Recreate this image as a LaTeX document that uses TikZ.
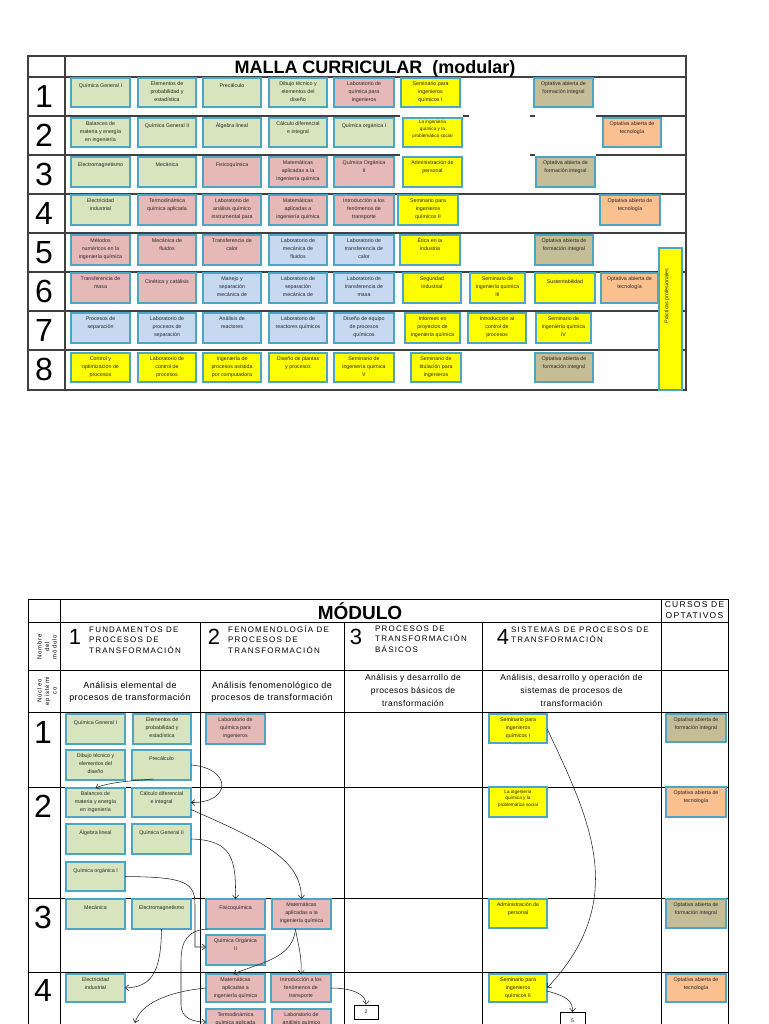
\documentclass[tikz,border=0pt]{standalone}
\usepackage{fontspec}
\setmainfont{Liberation Sans}
\newfontfamily\hdrfont[LetterSpace=15]{Liberation Sans}
\newfontfamily\nucfont[LetterSpace=5]{Liberation Sans}
\usetikzlibrary{arrows.meta,calc}
\definecolor{cgreen}{RGB}{215,228,189}
\definecolor{cpink}{RGB}{230,185,184}
\definecolor{cblue}{RGB}{198,217,241}
\definecolor{cyellow}{RGB}{255,255,0}
\definecolor{ctan}{RGB}{196,189,151}
\definecolor{corange}{RGB}{250,192,144}
\definecolor{bordc}{RGB}{75,165,195}
\tikzset{
  cbox/.style={draw=bordc, line width=1.1pt, inner sep=0pt, outer sep=0pt, text=black!85, font=\fontsize{5.3}{7.8}\selectfont},
  tline/.style={draw=black!75, line width=1.1pt},
  bline/.style={draw=black, line width=0.8pt},
  conn/.style={draw=black!85, line width=0.55pt, -{Straight Barb[length=3.5pt,width=6pt]}},
  bignum/.style={font=\fontsize{32}{32}\selectfont, inner sep=0pt},
  modnum/.style={font=\fontsize{22}{22}\selectfont, inner sep=0pt},
  modtxt/.style={font=\hdrfont\fontsize{8}{10.5}\selectfont, inner sep=0pt, anchor=base west},
  nuctxt/.style={font=\nucfont\fontsize{9}{12.5}\selectfont, inner sep=0pt, anchor=base},
  sidetxt/.style={font=\hdrfont\fontsize{6}{7.5}\selectfont, inner sep=0pt, rotate=90, align=center},
  numbox/.style={draw=black, line width=0.6pt, fill=white, inner sep=0pt, font=\fontsize{5}{6}\selectfont},
}
% \bx[first baseline]{name}{fill}{x1}{y1}{x2}{y2}{text}
\newcommand\bx[8][7.5]{%
  \node[cbox, fill=#3] (#2) at ({(#4+#6)/2},{(#5+#7)/2})
   {\parbox[t][\dimexpr#7pt-#5pt\relax][t]{\dimexpr#6pt-#4pt\relax}{\centering\rule{0pt}{#1pt}#8\par}};}
\begin{document}
\begin{tikzpicture}[x=1pt,y=-1pt]
\useasboundingbox (0,0) rectangle (768,1024);
\clip (0,0) rectangle (768,1024);
\fill[white] (0,0) rectangle (768,1024);

% ================= TOP TABLE =================
\draw[tline] (28,56) rectangle (686,390);
\draw[tline] (28,77) -- (686,77);
\draw[tline] (65,56) -- (65,390);
\draw[tline] (28,116) -- (400,116) (463,116) -- (469,116) (530,116) -- (535,116) (596,116) -- (686,116);
\draw[tline] (28,155) -- (400,155) (530,155) -- (535,155) (596,155) -- (686,155);
\foreach \yy in {194,233,272,311,350} {\draw[tline] (28,\yy) -- (686,\yy);}

\node[font=\bfseries\fontsize{18}{18}\selectfont, inner sep=0pt] (title) at (375,69) {MALLA CURRICULAR\ \ (modular)};

\node[bignum] (tn1) at (44,96) {1};
\node[bignum] (tn2) at (44,135.5) {2};
\node[bignum] (tn3) at (44,174.5) {3};
\node[bignum] (tn4) at (44,213.5) {4};
\node[bignum] (tn5) at (44,252.5) {5};
\node[bignum] (tn6) at (44,291.5) {6};
\node[bignum] (tn7) at (44,330.5) {7};
\node[bignum] (tn8) at (44,369.5) {8};

% row 1
\bx[10]{t11}{cgreen}{71}{78}{130}{107}{Química General I}
\bx{t12}{cgreen}{138}{78}{196}{107}{Elementos de\\probabilidad y\\estadística}
\bx[10]{t13}{cgreen}{203}{78}{261}{107}{Precálculo}
\bx{t14}{cgreen}{269}{78}{327}{107}{Dibujo técnico y\\elementos del\\diseño}
\bx{t15}{cpink}{334}{78}{394}{107}{Laboratorio de\\química para\\ingenieros}
\bx{t16}{cyellow}{401}{78}{460}{107}{Seminario para\\ingenieros\\químicos I}
\bx{t17}{ctan}{534}{78}{593}{107}{Optativa abierta de\\formación integral}
% row 2
\bx{t21}{cgreen}{71}{118}{130}{147}{Balances de\\materia y energía\\en ingeniería}
\bx[10]{t22}{cgreen}{138}{118}{196}{147}{Química General II}
\bx[10]{t23}{cgreen}{203}{118}{261}{147}{Álgebra lineal}
\bx{t24}{cgreen}{269}{118}{327}{147}{Cálculo diferencial\\e integral}
\bx[10]{t25}{cgreen}{334}{118}{394}{147}{Química orgánica I}
\bx[6]{t26}{cyellow}{403}{118}{462}{147}{\fontsize{4.7}{6.8}\selectfont La ingeniería\\química y la\\problemática social}
\bx{t27}{corange}{603}{118}{661}{147}{Optativa abierta de\\tecnología}
% row 3
\bx[10]{t31}{cgreen}{71}{157}{130}{187}{Electromagnetismo}
\bx[10]{t32}{cgreen}{138}{157}{196}{187}{Mecánica}
\bx[10]{t33}{cpink}{203}{157}{261}{187}{Fisicoquímica}
\bx{t34}{cpink}{269}{157}{327}{187}{Matemáticas\\aplicadas a la\\ingeniería química}
\bx{t35}{cpink}{334}{157}{394}{187}{Química Orgánica\\II}
\bx{t36}{cyellow}{403}{157}{462}{187}{Administración de\\personal}
\bx{t37}{ctan}{536}{157}{595}{187}{Optativa abierta de\\formación integral}
% row 4
\bx{t41}{cgreen}{71}{195}{130}{225}{Electricidad\\industrial}
\bx{t42}{cpink}{138}{195}{196}{225}{Termodinámica\\química aplicada}
\bx{t43}{cpink}{203}{195}{261}{225}{Laboratorio de\\análisis químico\\instrumental para}
\bx{t44}{cpink}{269}{195}{327}{225}{Matemáticas\\aplicadas a\\ingeniería química}
\bx{t45}{cpink}{334}{195}{394}{225}{Introducción a los\\fenómenos de\\transporte}
\bx{t46}{cyellow}{398}{195}{458}{225}{Seminario para\\ingenieros\\químicos II}
\bx{t47}{corange}{600}{195}{660}{225}{Optativa abierta de\\tecnología}
% row 5
\bx{t51}{cpink}{71}{235}{130}{265}{Métodos\\numéricos en la\\ingeniería química}
\bx{t52}{cpink}{138}{235}{196}{265}{Mecánica de\\fluidos}
\bx{t53}{cpink}{203}{235}{261}{265}{Transferencia de\\calor}
\bx{t54}{cblue}{269}{235}{327}{265}{Laboratorio de\\mecánica de\\fluidos}
\bx{t55}{cblue}{334}{235}{394}{265}{Laboratorio de\\transferencia de\\calor}
\bx{t56}{cyellow}{400}{235}{460}{265}{Ética en la\\industria}
\bx{t57}{ctan}{535}{235}{593}{265}{Optativa abierta de\\formación integral}
% row 6
\bx{t61}{cpink}{71}{273}{130}{303}{Transferencia de\\masa}
\bx[10]{t62}{cpink}{138}{273}{196}{303}{Cinética y catálisis}
\bx{t63}{cblue}{203}{273}{261}{303}{Manejo y\\separación\\mecánica de}
\bx{t64}{cblue}{269}{273}{327}{303}{Laboratorio de\\separación\\mecánica de}
\bx{t65}{cblue}{334}{273}{394}{303}{Laboratorio de\\transferencia de\\masa}
\bx{t66}{cyellow}{403}{273}{461}{303}{Seguridad\\industrial}
\bx{t67}{cyellow}{470}{273}{525}{303}{Seminario de\\ingeniería química\\III}
\bx[10]{t68}{cyellow}{535}{273}{595}{303}{Sustentabilidad}
\bx{t69}{corange}{601}{273}{658}{303}{Optativa abierta de\\tecnología}
% row 7
\bx{t71}{cblue}{71}{313}{130}{343}{Procesos de\\separación}
\bx{t72}{cblue}{138}{313}{196}{343}{Laboratorio de\\procesos de\\separación}
\bx{t73}{cblue}{203}{313}{261}{343}{Análisis de\\reactores}
\bx{t74}{cblue}{269}{313}{327}{343}{Laboratorio de\\reactores químicos}
\bx{t75}{cblue}{334}{313}{394}{343}{Diseño de equipo\\de procesos\\químicos}
\bx{t76}{cyellow}{405}{313}{460}{343}{Informes en\\proyectos de\\ingeniería química}
\bx{t77}{cyellow}{468}{313}{526}{343}{Introducción al\\control de\\procesos}
\bx{t78}{cyellow}{536}{313}{591}{343}{Seminario de\\ingeniería química\\IV}
% row 8
\bx{t81}{cyellow}{71}{353}{130}{382}{Control y\\optimización de\\procesos}
\bx{t82}{cyellow}{138}{353}{196}{382}{Laboratorio de\\control de\\procesos}
\bx{t83}{cyellow}{203}{353}{261}{382}{Ingeniería de\\procesos asistida\\por computadora}
\bx{t84}{cyellow}{269}{353}{327}{382}{Diseño de plantas\\y procesos}
\bx{t85}{cyellow}{334}{353}{394}{382}{Seminario de\\ingeniería química\\V}
\bx{t86}{cyellow}{411}{353}{461}{382}{Seminario de\\titulación para\\ingenieros}
\bx{t87}{ctan}{535}{353}{593}{382}{Optativa abierta de\\formación integral}

\node[cbox, fill=cyellow, minimum width=23pt, minimum height=142pt] (prac) at (670.5,319) {};
\node[rotate=90, inner sep=0pt, text=black!85, font=\fontsize{5.3}{6}\selectfont] (practxt) at (667,296) {Prácticas profesionales};

% ================= BOTTOM TABLE =================
\draw[bline] (28,599) -- (728,599);
\draw[bline] (28,599) -- (28,1030);
\draw[bline] (728,599) -- (728,1030);
\foreach \yy in {622,670,712,787,898,972} {\draw[bline] (28,\yy) -- (728,\yy);}
\draw[bline] (60,599) -- (60,1030);
\draw[bline] (661,599) -- (661,1030);
\foreach \xx in {200,344,482} {\draw[bline] (\xx,622) -- (\xx,1030);}

\node[font=\bfseries\fontsize{19}{19}\selectfont, inner sep=0pt] (modtitle) at (360,611) {MÓDULO};
\node[font=\hdrfont\fontsize{8.5}{10.5}\selectfont, align=center, inner sep=0pt] (cursos) at (694.5,610) {CURSOS DE\\OPTATIVOS};

\node[sidetxt] (side1) at (47,647) {Nombre\\del\\módulo};
\node[sidetxt] (side2) at (47,691) {Núcleo\\epistémi\\co};

\node[modnum] (mn1) at (75,637) {1};
\node[modtxt] (mt1) at (89,632) {\parbox[t]{110pt}{\raggedright FUNDAMENTOS DE\\PROCESOS DE\\TRANSFORMACIÓN}};
\node[modnum] (mn2) at (214,637) {2};
\node[modtxt] (mt2) at (228,632) {\parbox[t]{115pt}{\raggedright FENOMENOLOGÍA DE\\PROCESOS DE\\TRANSFORMACIÓN}};
\node[modnum] (mn3) at (356,637) {3};
\node[modtxt] (mt3) at (375,631) {\parbox[t]{105pt}{\raggedright PROCESOS DE\\TRANSFORMACIÓN\\BÁSICOS}};
\node[modnum] (mn4) at (503,637) {4};
\node[modtxt] (mt4) at (511,632) {\parbox[t]{145pt}{\raggedright SISTEMAS DE PROCESOS DE\\TRANSFORMACIÓN}};

\node[nuctxt] (nc1) at (130,688) {\parbox[t]{135pt}{\centering Análisis elemental de\\procesos de transformación}};
\node[nuctxt] (nc2) at (272,688) {\parbox[t]{140pt}{\centering Análisis fenomenológico de\\procesos de transformación}};
\node[nuctxt] (nc3) at (413,680) {\parbox[t]{135pt}{\centering\fontsize{8.5}{13}\selectfont Análisis y desarrollo de\\procesos básicos de\\transformación}};
\node[nuctxt] (nc4) at (571.5,680) {\parbox[t]{175pt}{\centering\fontsize{8.5}{13}\selectfont Análisis, desarrollo y operación de\\sistemas de procesos de\\transformación}};

\node[bignum] (bn1) at (43,732) {1};
\node[bignum] (bn2) at (43,806) {2};
\node[bignum] (bn3) at (43,917) {3};
\node[bignum] (bn4) at (43,990) {4};

\bx[10]{qg1}{cgreen}{66}{714}{125}{744}{Química General I}
\bx{elem}{cgreen}{133}{714}{191}{744}{Elementos de\\probabilidad y\\estadística}
\bx{labq}{cpink}{206}{714}{265}{744}{Laboratorio de\\química para\\ingenieros}
\bx{dibujo}{cgreen}{66}{750}{125}{780}{Dibujo técnico y\\elementos del\\diseño}
\bx[10]{precalc}{cgreen}{132}{750}{191}{780}{Precálculo}
\bx{balances}{cgreen}{66}{788}{125}{817}{Balances de\\materia y energía\\en ingeniería}
\bx{calcdi}{cgreen}{132}{788}{191}{817}{Cálculo diferencial\\e integral}
\bx[10]{alg}{cgreen}{66}{824}{125}{854}{Álgebra lineal}
\bx[10]{qg2}{cgreen}{132}{824}{191}{854}{Química General II}
\bx[10]{qo1}{cgreen}{66}{862}{125}{891}{Química orgánica I}
\bx[10]{mec}{cgreen}{66}{899}{125}{929}{Mecánica}
\bx[10]{emag}{cgreen}{132}{899}{191}{929}{Electromagnetismo}
\bx[10]{fisico}{cpink}{206}{899}{265}{929}{Fisicoquímica}
\bx{mat3}{cpink}{272}{899}{331}{929}{Matemáticas\\aplicadas a la\\ingeniería química}
\bx{qo2}{cpink}{206}{935}{265}{965}{Química Orgánica\\II}
\bx{elec}{cgreen}{66}{974}{125}{1002}{Electricidad\\industrial}
\bx{mat4}{cpink}{206}{974}{265}{1002}{Matemáticas\\aplicadas a\\ingeniería química}
\bx{intro}{cpink}{271}{974}{331}{1002}{Introducción a los\\fenómenos de\\transporte}
\bx{termo}{cpink}{206}{1009}{265}{1039}{Termodinámica\\química aplicada}
\bx{labaq}{cpink}{272}{1009}{331}{1039}{Laboratorio de\\análisis químico}
\bx{sem1}{cyellow}{489}{714}{547}{743}{Seminario para\\ingenieros\\químicos I}
\bx[6]{laing}{cyellow}{489}{787}{547}{817}{\fontsize{4.7}{6.8}\selectfont La ingeniería\\química y la\\problemática social}
\bx{admin}{cyellow}{489}{899}{547}{928}{Administración de\\personal}
\bx{sem2}{cyellow}{489}{974}{547}{1002}{Seminario para\\ingenieros\\químicos II}
\bx{opt1}{ctan}{666}{714}{726}{742}{Optativa abierta de\\formación integral}
\bx{opt2}{corange}{666}{787}{726}{817}{Optativa abierta de\\tecnología}
\bx{opt3}{ctan}{666}{899}{726}{928}{Optativa abierta de\\formación integral}
\bx{opt4}{corange}{666}{974}{726}{1002}{Optativa abierta de\\tecnología}

\node[numbox, minimum width=24pt, minimum height=14pt] (b2) at (366,1012) {2};
\node[numbox, minimum width=25pt, minimum height=25pt, anchor=north] (b5) at (572.5,1012) {\raisebox{9pt}{5}};

% ================= CONNECTORS =================
\coordinate (off1) at (135,1023);
\draw[conn] (precalc.east) .. controls (232,768) and (232,803) .. (calcdi.east);
\draw[conn] ($(precalc.south)+(-8,-1)$) .. controls (130,781) and (110,782) .. (balances.north);
\draw[conn] ($(calcdi.east)+(0,7)$) .. controls (265,842) and (301,860) .. (mat3.north);
\draw[conn] (qg2.east) .. controls (233,840) and (236,860) .. (fisico.north);
\draw[conn] (qo1.east) .. controls (185,877) and (195,882) .. (195,905) -- (195,947) -- ($(qo2.west)+(0,-3)$);
\draw[conn] (emag.south) .. controls (161,975) and (150,987) .. (elec.east);
\draw[conn] ($(mat3.south)+(-6,0)$) .. controls (293,958) and (262,962) .. ($(mat4.north)+(-2,0)$);
\draw[conn] ($(mat3.south)+(-6,0)$) .. controls (298,945) and (302,955) .. (intro.north);
\draw[conn] ($(fisico.south west)+(2,0)$) .. controls (188,930) and (181,940) .. (181,962) -- (181,1005) .. controls (181,1018) and (193,1022) .. ($(termo.north west)+(0,13)$);
\draw[conn] (mat4.west) .. controls (165,992) and (140,1005) .. (off1);
\draw[conn] (intro.east) .. controls (352,988) and (366,994) .. (b2.north);
\draw[conn] (sem1.east) .. controls (590,820) and (630,900) .. (sem2.east);
\draw[conn] ($(sem2.east)+(0,3)$) .. controls (565,996) and (573,1000) .. (b5.north);
\end{tikzpicture}
\end{document}
